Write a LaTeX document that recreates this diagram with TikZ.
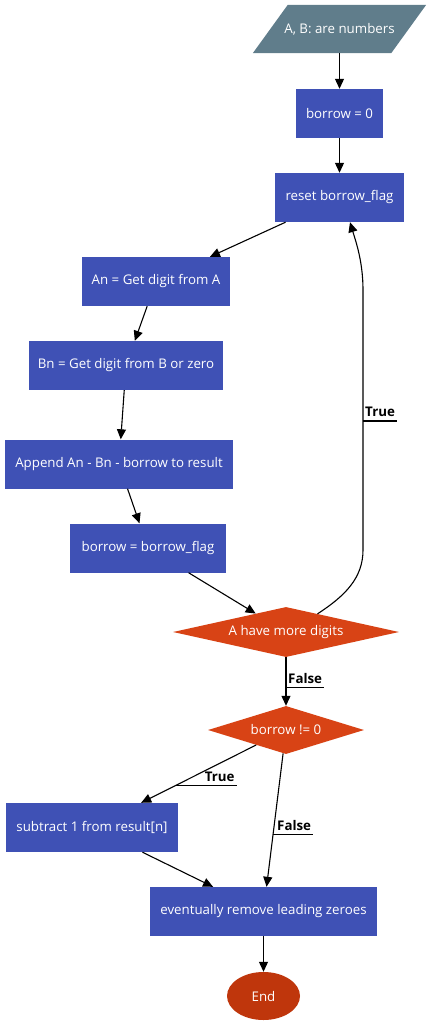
\documentclass[tikz,border=0pt]{standalone}
\usepackage{fontspec}
\setmainfont{Open Sans}
\usetikzlibrary{shapes.geometric,arrows.meta,calc}
\definecolor{indigo}{HTML}{3F51B5}
\definecolor{bgrey}{HTML}{607D8B}
\definecolor{dorange}{HTML}{D84315}
\definecolor{endred}{HTML}{BF360C}
\tikzset{
  txt/.style={font=\fontsize{13.3}{16}\selectfont},
  proc/.style={txt,rectangle,fill=indigo,text=white,minimum height=49pt,inner sep=0pt},
  decision/.style={txt,diamond,fill=dorange,text=white,inner sep=0pt},
  lbl/.style={font=\fontsize{13.3}{16}\bfseries\selectfont,inner xsep=2pt,inner ysep=4pt},
  arr/.style={line width=1.1pt,-{Triangle[length=10pt,width=9pt]}},
  uline/.style={line width=1.1pt}
}
\begin{document}
\begin{tikzpicture}[x=1pt,y=-1pt]
\useasboundingbox (0,0) rectangle (437,1032);
% input parallelogram
\node (p) [rectangle,minimum width=173pt,minimum height=48pt,inner sep=0pt] at (339.5,29) {};
\fill[bgrey] ($(p.north west)+(35,0)$) -- (p.north east) -- ($(p.south east)+(-35,0)$) -- (p.south west) -- cycle;
\node (pt) [txt,text=white] at (p.center) {A, B: are numbers};
% process boxes
\node (b0) [proc,minimum width=87pt] at (339.5,113.5) {borrow = 0};
\node (r) [proc,minimum width=129pt] at (339.5,197.5) {reset borrow\_flag};
\node (an) [proc,minimum width=148pt] at (156,281.5) {An = Get digit from A};
\node (bn) [proc,minimum width=194pt] at (126,365.5) {Bn = Get digit from B or zero};
\node (ap) [proc,minimum width=228pt] at (119,464) {Append An - Bn - borrow to result};
\node (bf) [proc,minimum width=156pt] at (148,548) {borrow = borrow\_flag};
\node (d1) [decision,shape aspect=4.5,minimum width=226pt,minimum height=50pt] at (286,632) {A have more digits};
\node (d2) [decision,shape aspect=3.25,minimum width=156pt,minimum height=48pt] at (286,730) {borrow != 0};
\node (sb) [proc,minimum width=172pt] at (92,827.5) {subtract 1 from result[n]};
\node (ev) [proc,minimum width=227pt] at (263.5,911.5) {eventually remove leading zeroes};
\node (en) [txt,ellipse,fill=endred,text=white,minimum width=73pt,minimum height=48pt,inner sep=0pt] at (263.5,996) {End};
% edges
\draw[arr] (p.south) -- (b0.north);
\draw[arr] (b0.south) -- (r.north);
\draw[arr] (r) -- (an);
\draw[arr] (an) -- (bn);
\draw[arr] (bn) -- (ap);
\draw[arr] (ap) -- (bf);
\draw[arr] (bf) -- (d1);
\draw[arr] (d1.30) .. controls (345,596) and (363,578) .. (363,550)
  -- coordinate[pos=0.496] (tc) (363,290)
  .. controls (363,262) and (356,242) .. ([xshift=10.5pt]r.south);
\draw[arr] (d1.south) -- coordinate[pos=0.63] (fc) (d2.north);
\draw[arr] (d2) -- coordinate[pos=0.70] (t2c) (sb);
\draw[arr] (d2) -- coordinate[pos=0.61] (f2c) (ev);
\draw[arr] (sb) -- (ev);
\draw[arr] (ev.south) -- (en.north);
% edge labels
\node (lt1) [lbl,anchor=south west] at (tc) {True};
\draw[uline] (tc) -- (tc -| lt1.south east);
\node (lf1) [lbl,anchor=south west] at (fc) {False};
\draw[uline] (fc) -- (fc -| lf1.south east);
\node (lt2) [lbl,anchor=south west,xshift=27pt] at (t2c) {True};
\draw[uline] (t2c) -- (t2c -| lt2.south east);
\node (lf2) [lbl,anchor=south west,xshift=2pt] at (f2c) {False};
\draw[uline] (f2c) -- (f2c -| lf2.south east);
\end{tikzpicture}
\end{document}
